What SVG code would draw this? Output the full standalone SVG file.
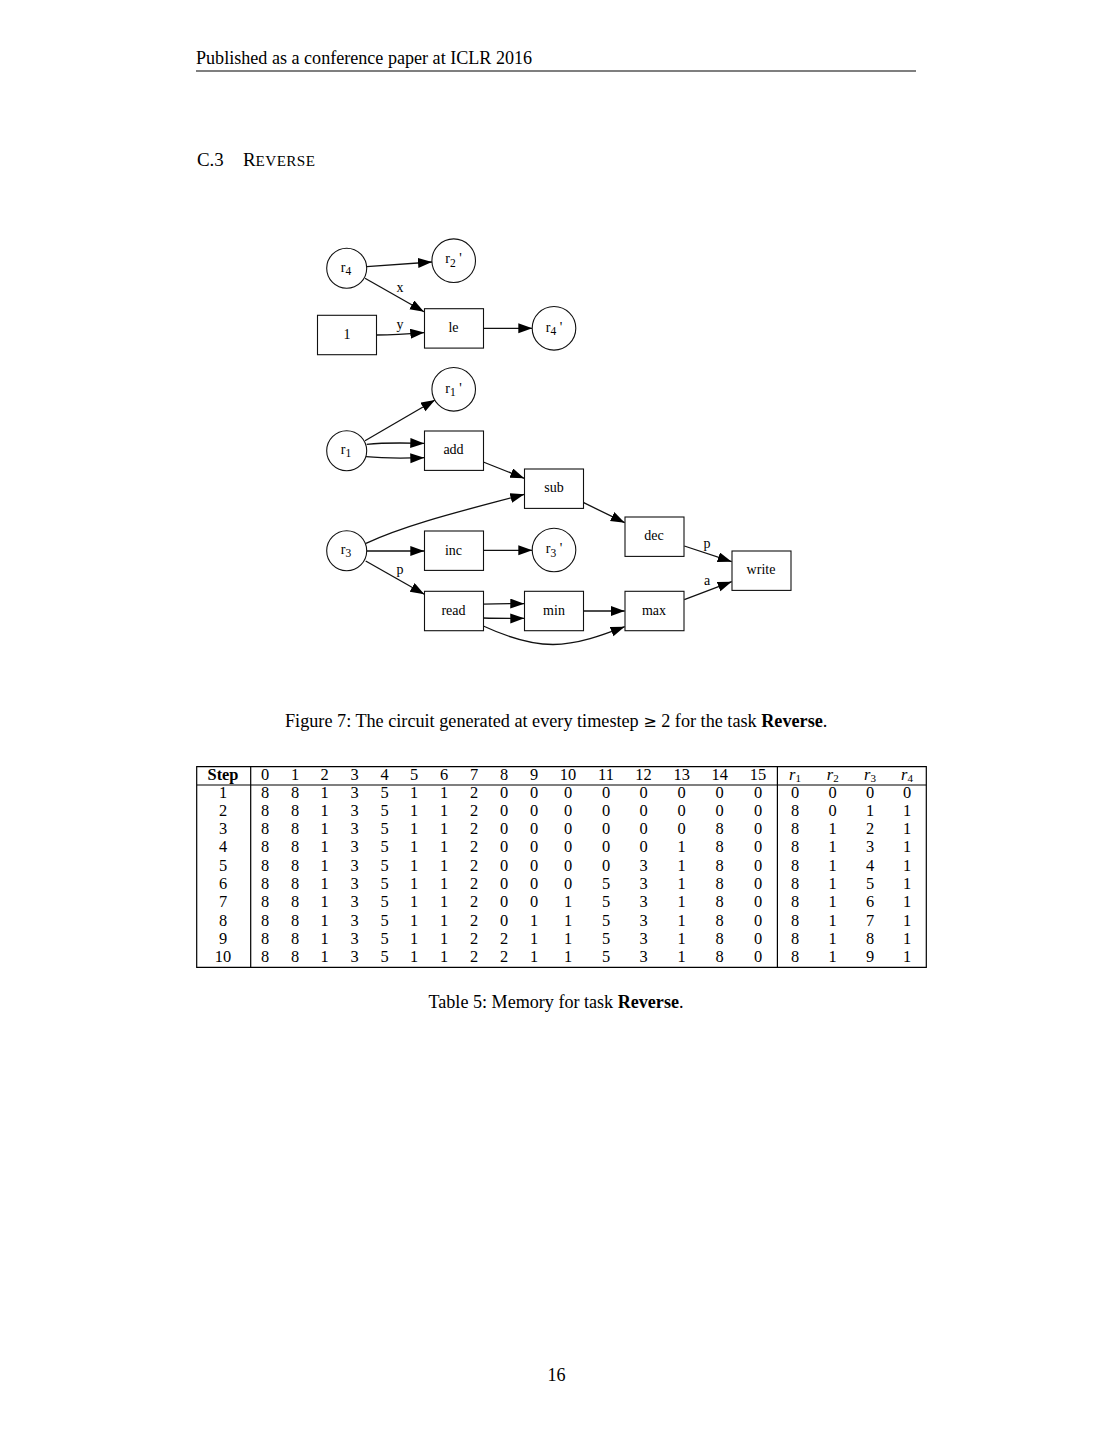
<svg xmlns="http://www.w3.org/2000/svg" width="1113" height="1440" viewBox="0 0 1113 1440">
<style>
text{font-family:"Liberation Serif","Times New Roman",serif;fill:#000}
.body{font-size:18.1px}
.cap{font-size:18.2px}
.sec{font-size:18.9px}
.sc{font-size:15.2px;letter-spacing:.4px}
.ge{font-size:16px;font-family:"DejaVu Sans",sans-serif}
.n{font-size:14px;text-anchor:middle}
.s{font-size:11.5px}
.shape{fill:#fff;stroke:#111;stroke-width:1.1}
.e{fill:none;stroke:#111;stroke-width:1.3;marker-end:url(#arrow)}
.t text{font-size:16.4px;text-anchor:middle}
.hd{font-weight:bold}
.rule{stroke:#000;stroke-width:1.2;fill:none}
.it{font-style:italic}
.t .sub{font-size:11px;font-style:normal}
</style>
<defs>
<marker id="arrow" markerUnits="userSpaceOnUse" markerWidth="16" markerHeight="11" refX="14" refY="5" orient="auto">
<path d="M0 0L14 5L0 10Z" fill="#000"/>
</marker>
</defs>
<rect width="1113" height="1440" fill="#fff"/>
<text class="body" x="196" y="64">Published as a conference paper at ICLR 2016</text>
<path class="rule" d="M196 71H916"/>
<text class="sec" x="197" y="166">C.3</text>
<text class="sec" x="243" y="166">R<tspan class="sc">EVERSE</tspan></text>

<g id="connectors">
<path class="e" d="M366.7 266.7L432 262"/>
<path class="e" d="M365 278.3L424 311.7"/>
<path class="e" d="M376.7 335C395 335 408 334 424.3 332.6"/>
<path class="e" d="M483.3 328.3H532.3"/>
<path class="e" d="M365 440.7L435 400"/>
<path class="e" d="M366.7 444.3C385 442.5 405 442.8 424.3 443.4"/>
<path class="e" d="M366 456.7C385 458.6 405 458.3 424.3 457.7"/>
<path class="e" d="M483.3 462L524.3 478.3"/>
<path class="e" d="M366 543.3C410 523 470 509 524.3 494.3"/>
<path class="e" d="M583.7 502.7L624.7 522.7"/>
<path class="e" d="M366.7 551H424.3"/>
<path class="e" d="M483.3 550.3H532.3"/>
<path class="e" d="M365.7 561L424.3 594.3"/>
<path class="e" d="M483.3 604.2C497 603.6 510 603.6 524.3 603.7"/>
<path class="e" d="M483.3 618C497 618.4 510 618.4 524.3 618.3"/>
<path class="e" d="M583.7 611H624.7"/>
<path class="e" d="M483.3 626C505 636 530 644.5 553 644.5C578 644.5 603 635 624.7 626.7"/>
<path class="e" d="M684.3 546L731.7 561.7"/>
<path class="e" d="M684.3 599.7L731.7 581.7"/>
<text class="n" x="400" y="292.3">x</text>
<text class="n" x="400" y="329">y</text>
<text class="n" x="400" y="574">p</text>
<text class="n" x="707" y="548">p</text>
<text class="n" x="707" y="585">a</text>
</g>

<g id="node-r4"><circle class="shape" cx="346.7" cy="268.3" r="20"/><text class="n" x="346" y="271.7">r<tspan class="s" dy="3.3">4</tspan></text></g>
<g id="node-r2p"><circle class="shape" cx="453.7" cy="260.7" r="21.8"/><text class="n" x="453.5" y="263.3">r<tspan class="s" dy="3.3">2</tspan><tspan dy="-3.3"> '</tspan></text></g>
<g id="node-one"><rect class="shape" x="317.5" y="315.3" width="59" height="39.4"/><text class="n" x="347" y="339">1</text></g>
<g id="node-le"><rect class="shape" x="424.5" y="308.7" width="59" height="39.4"/><text class="n" x="453.5" y="331.7">le</text></g>
<g id="node-r4p"><circle class="shape" cx="554" cy="328.3" r="21.8"/><text class="n" x="554" y="331.7">r<tspan class="s" dy="3.3">4</tspan><tspan dy="-3.3"> '</tspan></text></g>
<g id="node-r1p"><circle class="shape" cx="453.7" cy="389.3" r="21.8"/><text class="n" x="453.5" y="392.7">r<tspan class="s" dy="3.3">1</tspan><tspan dy="-3.3"> '</tspan></text></g>
<g id="node-r1"><circle class="shape" cx="346.7" cy="450.7" r="20"/><text class="n" x="346" y="454">r<tspan class="s" dy="3.3">1</tspan></text></g>
<g id="node-add"><rect class="shape" x="424.5" y="431" width="59" height="39.4"/><text class="n" x="453.5" y="454">add</text></g>
<g id="node-sub"><rect class="shape" x="524.5" y="469" width="59" height="39.4"/><text class="n" x="554" y="492.3">sub</text></g>
<g id="node-dec"><rect class="shape" x="625" y="517" width="59" height="39.4"/><text class="n" x="654" y="540">dec</text></g>
<g id="node-r3"><circle class="shape" cx="346.7" cy="550.7" r="20"/><text class="n" x="346" y="554">r<tspan class="s" dy="3.3">3</tspan></text></g>
<g id="node-inc"><rect class="shape" x="424.5" y="531" width="59" height="39.4"/><text class="n" x="453.5" y="555">inc</text></g>
<g id="node-r3p"><circle class="shape" cx="554" cy="550" r="21.8"/><text class="n" x="554" y="553.3">r<tspan class="s" dy="3.3">3</tspan><tspan dy="-3.3"> '</tspan></text></g>
<g id="node-write"><rect class="shape" x="732" y="551" width="59" height="39.4"/><text class="n" x="761" y="574">write</text></g>
<g id="node-read"><rect class="shape" x="424.5" y="591.3" width="59" height="39.4"/><text class="n" x="453.5" y="615.3">read</text></g>
<g id="node-min"><rect class="shape" x="524.5" y="591.3" width="59" height="39.4"/><text class="n" x="554" y="615.3">min</text></g>
<g id="node-max"><rect class="shape" x="625" y="591.3" width="59" height="39.4"/><text class="n" x="654" y="615.3">max</text></g>

<text class="cap" x="285" y="727">Figure 7: The circuit generated at every timestep <tspan class="ge">≥</tspan> 2 for the task <tspan font-weight="bold">Reverse</tspan>.</text>

<g id="table" class="t">
<path class="rule" d="M196.7 766.7H926.3V967.3H196.7ZM196.7 785H926.3M250.7 766.7V967.3M777.4 766.7V967.3"/>
<g transform="translate(0,779.6)"><text class="hd" x="223">Step</text><text x="265">0</text><text x="295">1</text><text x="324.7">2</text><text x="354.5">3</text><text x="384.5">4</text><text x="414">5</text><text x="444">6</text><text x="474">7</text><text x="504">8</text><text x="534">9</text><text x="568">10</text><text x="606">11</text><text x="643.5">12</text><text x="681.7">13</text><text x="719.7">14</text><text x="758">15</text><text class="it" x="795">r<tspan class="sub" dy="2.5">1</tspan></text><text class="it" x="832.7">r<tspan class="sub" dy="2.5">2</tspan></text><text class="it" x="870">r<tspan class="sub" dy="2.5">3</tspan></text><text class="it" x="907">r<tspan class="sub" dy="2.5">4</tspan></text></g>
<g transform="translate(0,797.6)"><text x="223">1</text><text x="265">8</text><text x="295">8</text><text x="324.7">1</text><text x="354.5">3</text><text x="384.5">5</text><text x="414">1</text><text x="444">1</text><text x="474">2</text><text x="504">0</text><text x="534">0</text><text x="568">0</text><text x="606">0</text><text x="643.5">0</text><text x="681.7">0</text><text x="719.7">0</text><text x="758">0</text><text x="795">0</text><text x="832.7">0</text><text x="870">0</text><text x="907">0</text></g>
<g transform="translate(0,815.9)"><text x="223">2</text><text x="265">8</text><text x="295">8</text><text x="324.7">1</text><text x="354.5">3</text><text x="384.5">5</text><text x="414">1</text><text x="444">1</text><text x="474">2</text><text x="504">0</text><text x="534">0</text><text x="568">0</text><text x="606">0</text><text x="643.5">0</text><text x="681.7">0</text><text x="719.7">0</text><text x="758">0</text><text x="795">8</text><text x="832.7">0</text><text x="870">1</text><text x="907">1</text></g>
<g transform="translate(0,834.1)"><text x="223">3</text><text x="265">8</text><text x="295">8</text><text x="324.7">1</text><text x="354.5">3</text><text x="384.5">5</text><text x="414">1</text><text x="444">1</text><text x="474">2</text><text x="504">0</text><text x="534">0</text><text x="568">0</text><text x="606">0</text><text x="643.5">0</text><text x="681.7">0</text><text x="719.7">8</text><text x="758">0</text><text x="795">8</text><text x="832.7">1</text><text x="870">2</text><text x="907">1</text></g>
<g transform="translate(0,852.4)"><text x="223">4</text><text x="265">8</text><text x="295">8</text><text x="324.7">1</text><text x="354.5">3</text><text x="384.5">5</text><text x="414">1</text><text x="444">1</text><text x="474">2</text><text x="504">0</text><text x="534">0</text><text x="568">0</text><text x="606">0</text><text x="643.5">0</text><text x="681.7">1</text><text x="719.7">8</text><text x="758">0</text><text x="795">8</text><text x="832.7">1</text><text x="870">3</text><text x="907">1</text></g>
<g transform="translate(0,870.7)"><text x="223">5</text><text x="265">8</text><text x="295">8</text><text x="324.7">1</text><text x="354.5">3</text><text x="384.5">5</text><text x="414">1</text><text x="444">1</text><text x="474">2</text><text x="504">0</text><text x="534">0</text><text x="568">0</text><text x="606">0</text><text x="643.5">3</text><text x="681.7">1</text><text x="719.7">8</text><text x="758">0</text><text x="795">8</text><text x="832.7">1</text><text x="870">4</text><text x="907">1</text></g>
<g transform="translate(0,888.9)"><text x="223">6</text><text x="265">8</text><text x="295">8</text><text x="324.7">1</text><text x="354.5">3</text><text x="384.5">5</text><text x="414">1</text><text x="444">1</text><text x="474">2</text><text x="504">0</text><text x="534">0</text><text x="568">0</text><text x="606">5</text><text x="643.5">3</text><text x="681.7">1</text><text x="719.7">8</text><text x="758">0</text><text x="795">8</text><text x="832.7">1</text><text x="870">5</text><text x="907">1</text></g>
<g transform="translate(0,907.2)"><text x="223">7</text><text x="265">8</text><text x="295">8</text><text x="324.7">1</text><text x="354.5">3</text><text x="384.5">5</text><text x="414">1</text><text x="444">1</text><text x="474">2</text><text x="504">0</text><text x="534">0</text><text x="568">1</text><text x="606">5</text><text x="643.5">3</text><text x="681.7">1</text><text x="719.7">8</text><text x="758">0</text><text x="795">8</text><text x="832.7">1</text><text x="870">6</text><text x="907">1</text></g>
<g transform="translate(0,925.5)"><text x="223">8</text><text x="265">8</text><text x="295">8</text><text x="324.7">1</text><text x="354.5">3</text><text x="384.5">5</text><text x="414">1</text><text x="444">1</text><text x="474">2</text><text x="504">0</text><text x="534">1</text><text x="568">1</text><text x="606">5</text><text x="643.5">3</text><text x="681.7">1</text><text x="719.7">8</text><text x="758">0</text><text x="795">8</text><text x="832.7">1</text><text x="870">7</text><text x="907">1</text></g>
<g transform="translate(0,943.7)"><text x="223">9</text><text x="265">8</text><text x="295">8</text><text x="324.7">1</text><text x="354.5">3</text><text x="384.5">5</text><text x="414">1</text><text x="444">1</text><text x="474">2</text><text x="504">2</text><text x="534">1</text><text x="568">1</text><text x="606">5</text><text x="643.5">3</text><text x="681.7">1</text><text x="719.7">8</text><text x="758">0</text><text x="795">8</text><text x="832.7">1</text><text x="870">8</text><text x="907">1</text></g>
<g transform="translate(0,962)"><text x="223">10</text><text x="265">8</text><text x="295">8</text><text x="324.7">1</text><text x="354.5">3</text><text x="384.5">5</text><text x="414">1</text><text x="444">1</text><text x="474">2</text><text x="504">2</text><text x="534">1</text><text x="568">1</text><text x="606">5</text><text x="643.5">3</text><text x="681.7">1</text><text x="719.7">8</text><text x="758">0</text><text x="795">8</text><text x="832.7">1</text><text x="870">9</text><text x="907">1</text></g>
</g>

<text class="body" x="428.5" y="1008">Table 5: Memory for task <tspan font-weight="bold">Reverse</tspan>.</text>
<text class="body" x="556.5" y="1381" text-anchor="middle">16</text>
</svg>
